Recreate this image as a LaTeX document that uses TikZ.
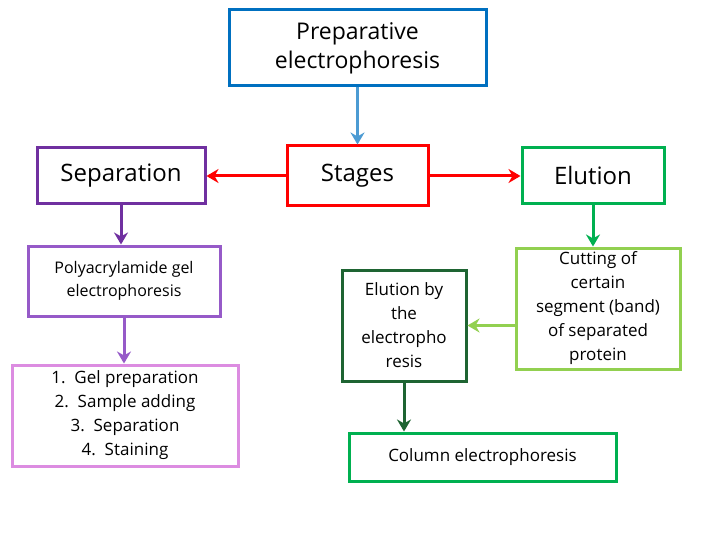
\documentclass[tikz,border=0pt]{standalone}
\usepackage{fontspec}
\setmainfont{Open Sans}
\usetikzlibrary{arrows.meta}
\definecolor{cblue}{RGB}{0,112,192}
\definecolor{cpurple}{RGB}{112,48,160}
\definecolor{cpurple2}{RGB}{150,90,200}
\definecolor{cpink}{RGB}{220,140,225}
\definecolor{cgreen}{RGB}{0,176,80}
\definecolor{cdgreen}{RGB}{30,100,50}
\definecolor{clgreen}{RGB}{146,208,80}
\begin{document}
\begin{tikzpicture}[x=1pt,y=-1pt,
 box/.style={draw=#1,line width=3pt,fill=white,align=center,inner sep=0pt},
 arr/.style={draw=#1,line width=3pt,-{Stealth[length=12pt,width=14pt]}}]
\useasboundingbox (0,0) rectangle (720,540);
\node[box=cblue,minimum width=257,minimum height=76,font=\fontsize{23}{29}\selectfont] (top) at (357.5,48) {Preparative\\electrophoresis};
\node[box=cpurple,minimum width=168,minimum height=56,font=\fontsize{24}{29}\selectfont] (sep) at (121,176) {Separation};
\node[box=red,minimum width=141,minimum height=60,font=\fontsize{24}{29}\selectfont] (stg) at (357.5,176) {Stages};
\node[box=cgreen,minimum width=142,minimum height=56,font=\fontsize{24}{29}\selectfont] (elu) at (593,176) {Elution};
\node[box=cpurple2,minimum width=192,minimum height=70,font=\fontsize{16}{23}\selectfont] (poly) at (124,281) {Polyacrylamide gel\\electrophoresis};
\node[box=cpink,minimum width=226,minimum height=101,font=\fontsize{17}{24}\selectfont] (list) at (125,415.5) {1.\ \ Gel preparation\\2.\ \ Sample adding\\3.\ \ Separation\\4.\ \ Staining};
\node[box=cdgreen,minimum width=124,minimum height=111,font=\fontsize{17}{24}\selectfont] (eby) at (404,325.5) {Elution by\\the\\electropho\\resis};
\node[box=clgreen,minimum width=164,minimum height=121,font=\fontsize{17}{24}\selectfont] (cut) at (598,308.5) {Cutting of\\certain\\segment (band)\\of separated\\protein};
\node[box=cgreen,minimum width=267,minimum height=48,font=\fontsize{17}{24}\selectfont] (col) at (482.5,457) {Column electrophoresis};
\draw[arr=cblue!70] (top) -- (stg);
\draw[arr=red] (stg) -- (sep);
\draw[arr=red] (stg) -- (elu);
\draw[arr=cpurple] (sep) -- (sep|-poly.north);
\draw[arr=cpurple2] (poly) -- (poly|-list.north);
\draw[arr=cgreen] (elu) -- (elu|-cut.north);
\draw[arr=clgreen] (cut.west|-eby) -- (eby);
\draw[arr=cdgreen] (eby) -- (eby|-col.north);
\end{tikzpicture}
\end{document}
